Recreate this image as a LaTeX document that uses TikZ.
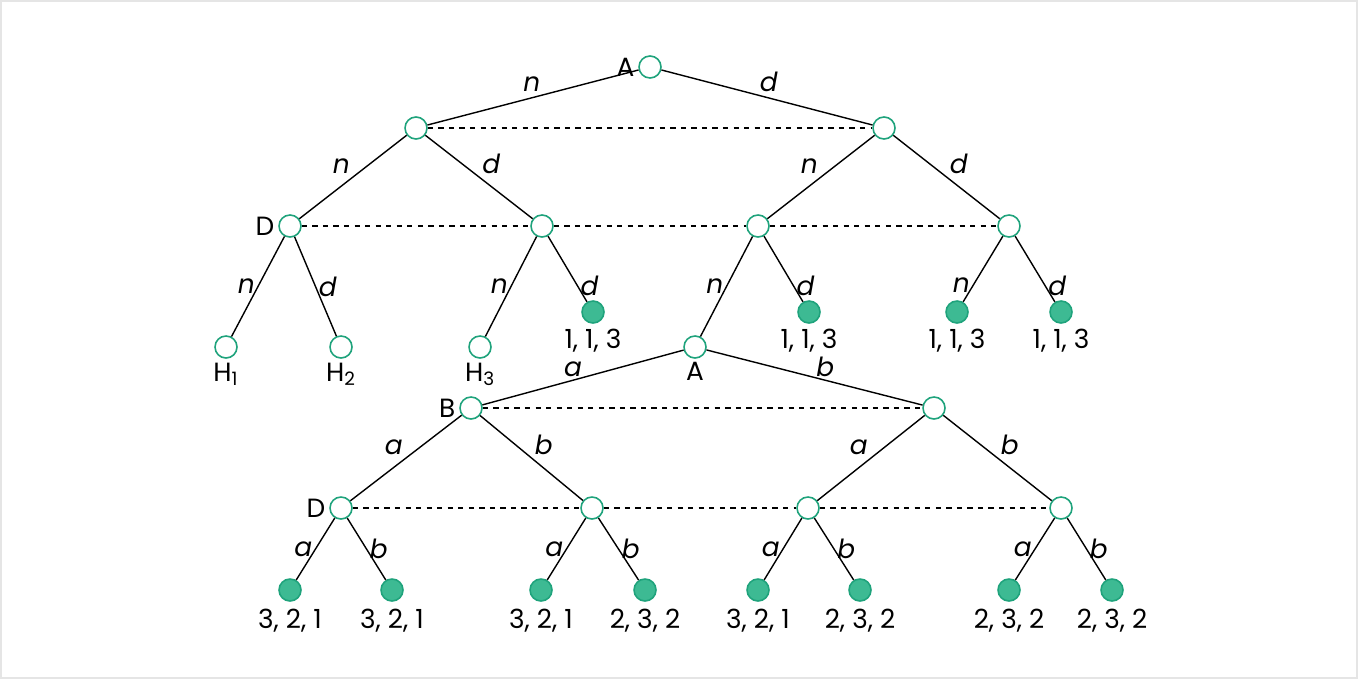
\documentclass[tikz,border=0pt]{standalone}
\usepackage{fontspec}
\setmainfont{Poppins}
\definecolor{gstroke}{HTML}{1FA37C}
\definecolor{gfill}{HTML}{3DBA93}
\begin{document}
\begin{tikzpicture}[x=0.02cm,y=-0.02cm,
  open/.style={circle,draw=gstroke,fill=white,line width=0.9pt,minimum size=0.44cm,inner sep=0pt},
  full/.style={circle,draw=gstroke,fill=gfill,line width=0.9pt,minimum size=0.44cm,inner sep=0pt},
  lab/.style={font=\fontsize{15}{15}\selectfont},
  el/.style={font=\itshape\fontsize{15}{15}\selectfont,inner sep=1.5pt},
  edge/.style={draw=black,line width=0.8pt},
  info/.style={draw=black,dashed,line width=0.8pt}]
\draw[draw=black!10,line width=1pt,fill=white] (1,1) rectangle (1357,678);
\useasboundingbox (0,0) rectangle (1358,679);
% nodes
\node[open] (r) at (650,67) {};
\node[open] (a1) at (416,128) {};
\node[open] (a2) at (884,128) {};
\node[open] (b1) at (290,226) {};
\node[open] (b2) at (542,226) {};
\node[open] (b3) at (758,226) {};
\node[open] (b4) at (1009,226) {};
\node[open] (h1) at (226,347) {};
\node[open] (h2) at (341,347) {};
\node[open] (h3) at (480,347) {};
\node[full] (f1) at (593,312) {};
\node[open] (s) at (695,347) {};
\node[full] (f2) at (809,312) {};
\node[full] (f3) at (957,312) {};
\node[full] (f4) at (1061,312) {};
\node[open] (c1) at (471,408) {};
\node[open] (c2) at (934,408) {};
\node[open] (d1) at (341,508) {};
\node[open] (d2) at (592,508) {};
\node[open] (d3) at (808,508) {};
\node[open] (d4) at (1061,508) {};
\foreach \i/\x in {1/290,2/392,3/541,4/645,5/758,6/860,7/1009,8/1112}
  \node[full] (l\i) at (\x,590) {};
% info sets
\draw[info] (a1) -- (a2);
\draw[info] (b1) -- (b2);
\draw[info] (b2) -- (b3);
\draw[info] (b3) -- (b4);
\draw[info] (c1) -- (c2);
\draw[info] (d1) -- (d2);
\draw[info] (d2) -- (d3);
\draw[info] (d3) -- (d4);
% edges
\draw[edge] (r) -- node[el,above left,pos=0.45] {n} (a1);
\draw[edge] (r) -- node[el,above right,pos=0.45] {d} (a2);
\draw[edge] (a1) -- node[el,above left] {n} (b1);
\draw[edge] (a1) -- node[el,above right] {d} (b2);
\draw[edge] (a2) -- node[el,above left] {n} (b3);
\draw[edge] (a2) -- node[el,above right] {d} (b4);
\draw[edge] (b1) -- node[el,left] {n} (h1);
\draw[edge] (b1) -- node[el,right] {d} (h2);
\draw[edge] (b2) -- node[el,left] {n} (h3);
\draw[edge] (b2) -- node[el,right,pos=0.75] {d} (f1);
\draw[edge] (b3) -- node[el,left] {n} (s);
\draw[edge] (b3) -- node[el,right,pos=0.75] {d} (f2);
\draw[edge] (b4) -- node[el,left,pos=0.75] {n} (f3);
\draw[edge] (b4) -- node[el,right,pos=0.75] {d} (f4);
\draw[edge] (s) -- node[el,above,pos=0.55] {a} (c1);
\draw[edge] (s) -- node[el,above,pos=0.55] {b} (c2);
\draw[edge] (c1) -- node[el,above left] {a} (d1);
\draw[edge] (c1) -- node[el,above right] {b} (d2);
\draw[edge] (c2) -- node[el,above left] {a} (d3);
\draw[edge] (c2) -- node[el,above right] {b} (d4);
\draw[edge] (d1) -- node[el,left] {a} (l1);
\draw[edge] (d1) -- node[el,right] {b} (l2);
\draw[edge] (d2) -- node[el,left] {a} (l3);
\draw[edge] (d2) -- node[el,right] {b} (l4);
\draw[edge] (d3) -- node[el,left] {a} (l5);
\draw[edge] (d3) -- node[el,right] {b} (l6);
\draw[edge] (d4) -- node[el,left] {a} (l7);
\draw[edge] (d4) -- node[el,right] {b} (l8);
% labels
\node[lab,left,inner sep=2pt] (tr) at (r.west) {A};
\node[lab,left,inner sep=2pt] (tb1) at (b1.west) {D};
\node[lab,left,inner sep=2pt] (tc1) at (c1.west) {B};
\node[lab,left,inner sep=2pt] (td1) at (d1.west) {D};
\node[lab,below,inner sep=2pt] (ts) at (s.south) {A};
\node[lab,below,inner sep=2pt] (th1) at (h1.south) {H\textsubscript{1}};
\node[lab,below,inner sep=2pt] (th2) at (h2.south) {H\textsubscript{2}};
\node[lab,below,inner sep=2pt] (th3) at (h3.south) {H\textsubscript{3}};
\foreach \f in {f1,f2,f3,f4}
  \node[lab,below,inner sep=3pt] at (\f.south) {1, 1, 3};
\foreach \i/\t in {1/{3, 2, 1},2/{3, 2, 1},3/{3, 2, 1},4/{2, 3, 2},5/{3, 2, 1},6/{2, 3, 2},7/{2, 3, 2},8/{2, 3, 2}}
  \node[lab,below,inner sep=4pt] at (l\i.south) {\t};
\end{tikzpicture}
\end{document}
